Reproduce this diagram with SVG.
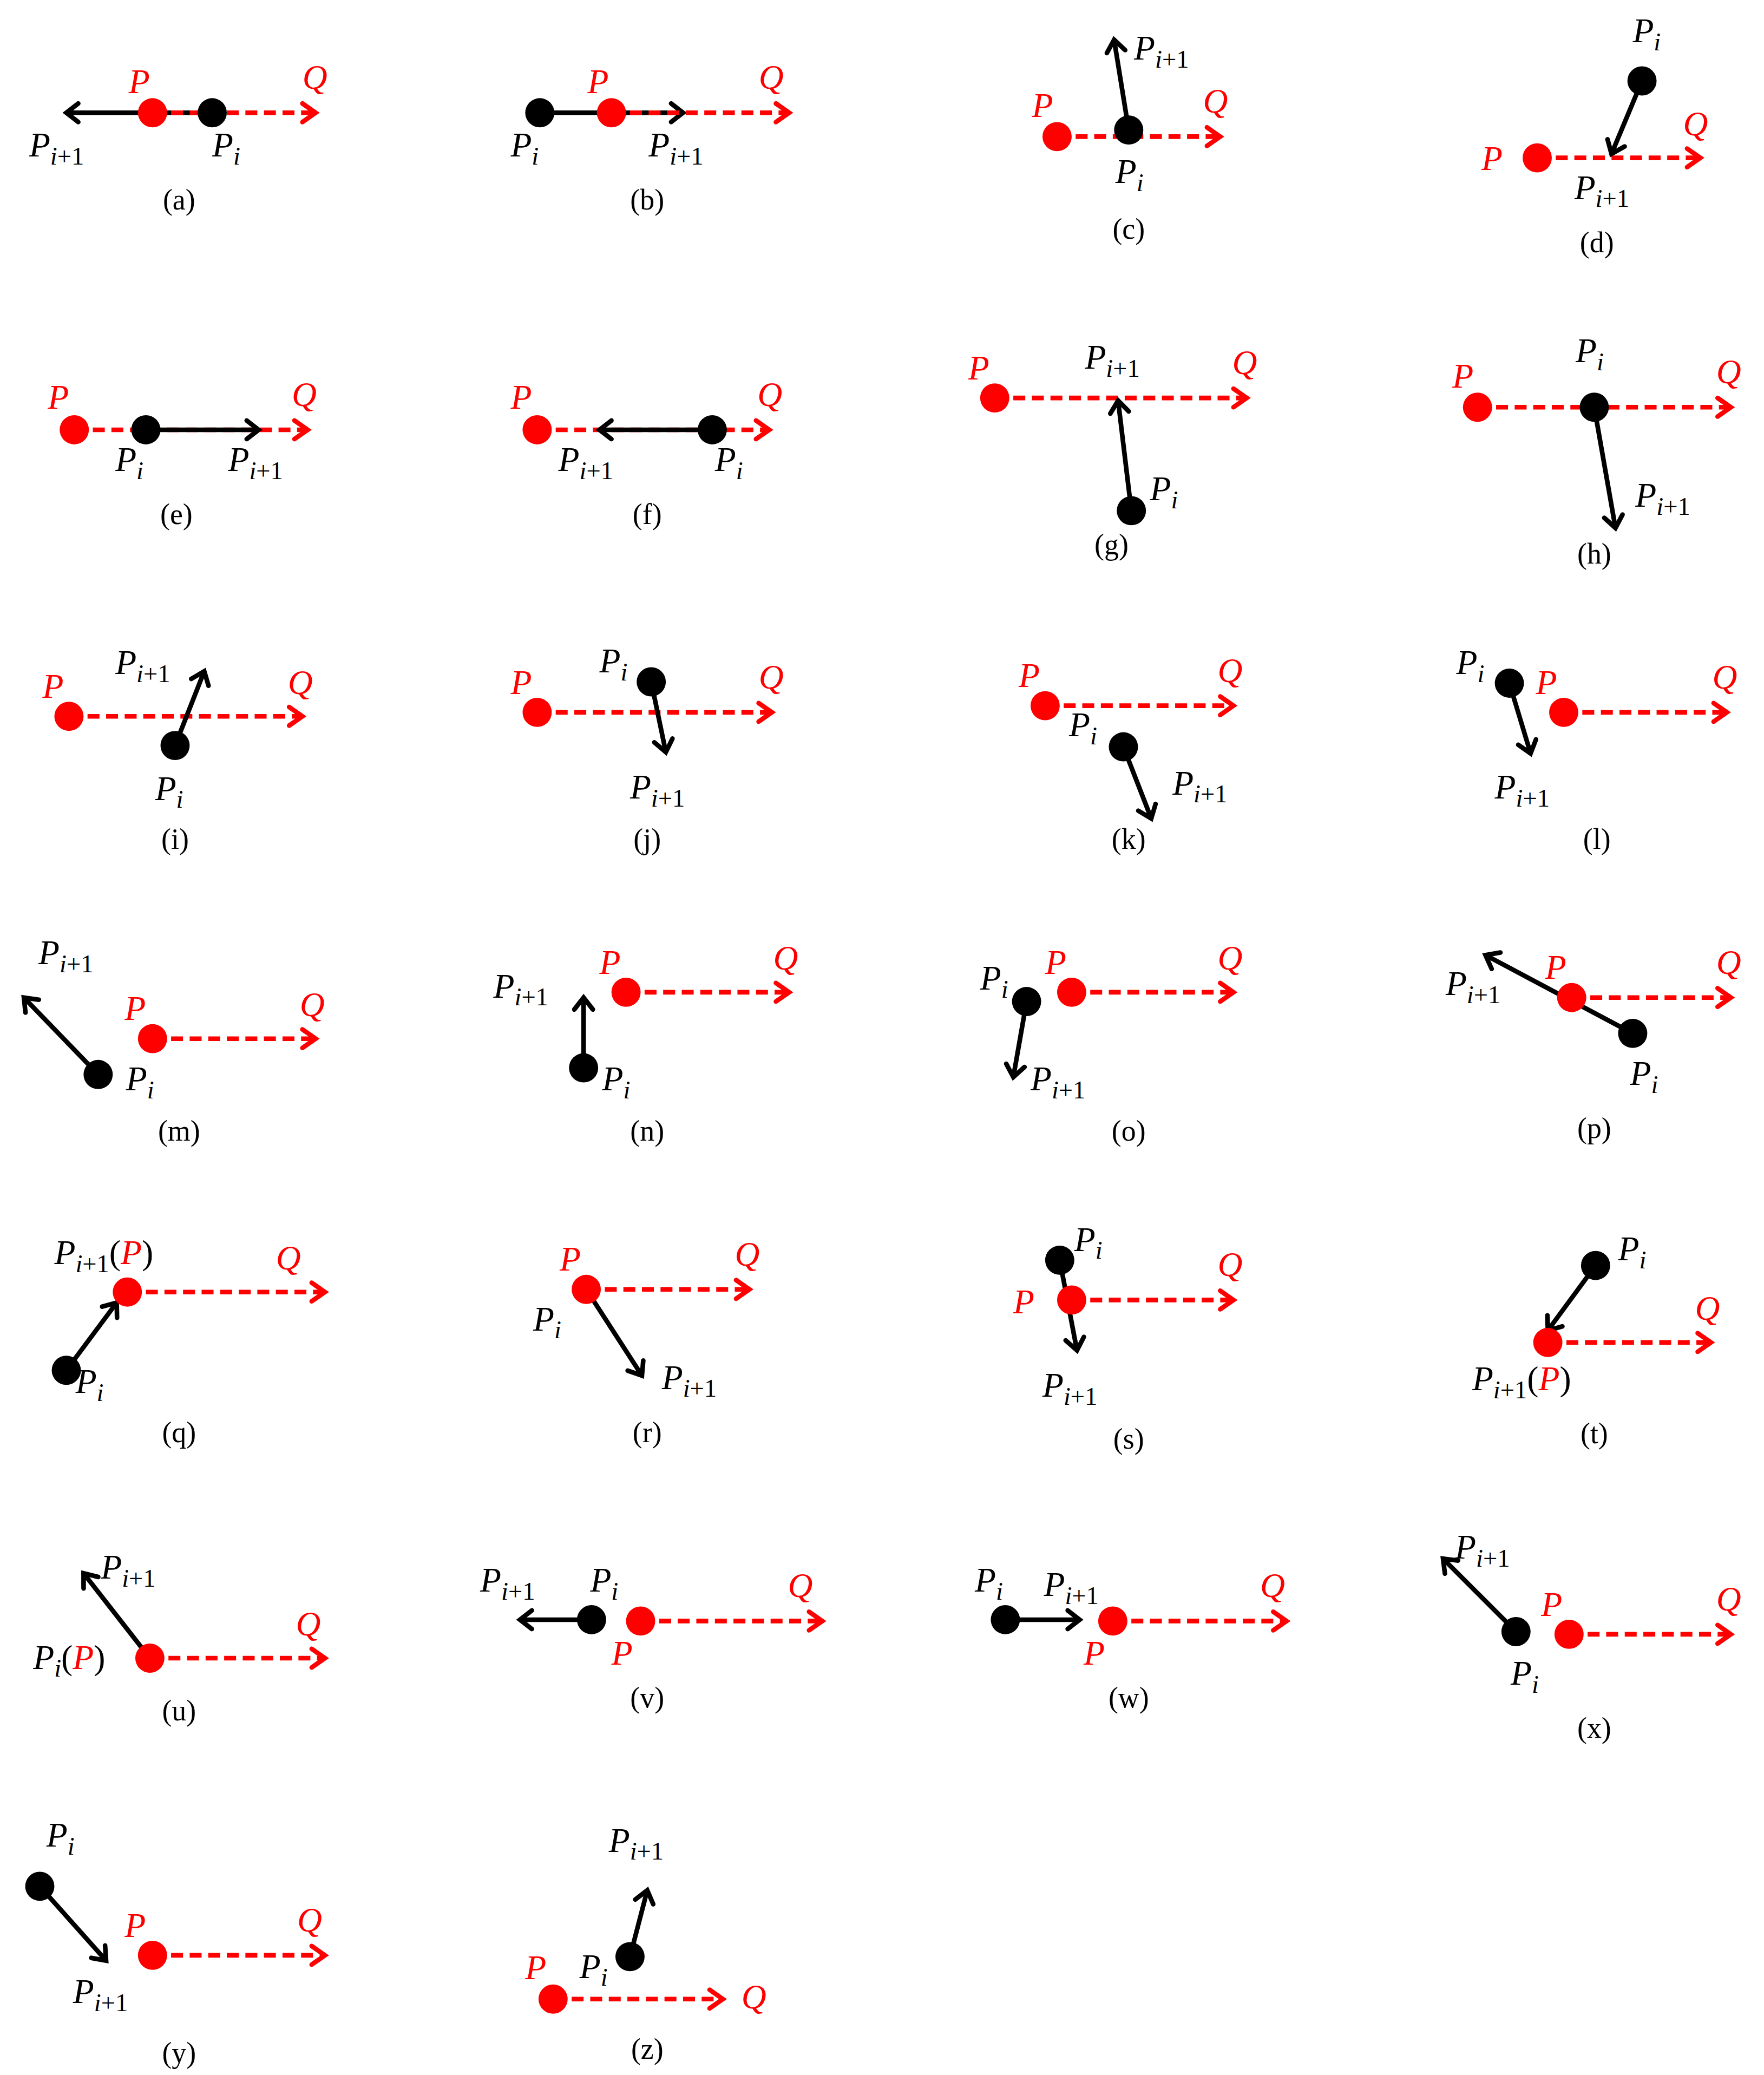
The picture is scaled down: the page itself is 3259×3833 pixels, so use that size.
<svg xmlns="http://www.w3.org/2000/svg" width="3259" height="3833" viewBox="0 0 3259 3833">
<style>
text{font-family:"Liberation Serif",serif;font-size:26px}
.r{fill:#f00;font-style:italic}
.b{fill:#000;font-style:italic}
.s{font-size:19px;font-style:italic}
.u{font-size:19px;font-style:normal}
.cap{font-style:normal;font-size:22px;text-anchor:middle}
.k{stroke:#000;stroke-width:3.5;fill:none;marker-end:url(#ka)}
.d{stroke:#f00;stroke-width:3.5;fill:none;stroke-dasharray:9 5;marker-end:url(#ra)}
.rd{fill:#f00}.bd{fill:#000}
</style>
<defs>
<marker id="ka" markerUnits="userSpaceOnUse" markerWidth="20" markerHeight="20" orient="auto" overflow="visible"><path d="M-9,-7 L0,0 L-9,7" stroke="#000" stroke-width="3.5" fill="none" stroke-linecap="round"/></marker>
<marker id="ra" markerUnits="userSpaceOnUse" markerWidth="20" markerHeight="20" orient="auto" overflow="visible"><path d="M-10,-7 L0,0 L-10,7" stroke="#f00" stroke-width="3.5" fill="none" stroke-linecap="round"/></marker>
</defs>
<rect width="3259" height="3833" fill="#fff"/>
<g transform="scale(2.4504)">
<g id="connectors">
<path class="k" d="M160,85L50,85"/><path class="d" d="M115,85L238,85"/>
<path class="k" d="M407,85L515,85"/><path class="d" d="M461,85L595,85"/>
<path class="d" d="M797,103L920,103"/><path class="k" d="M851,98L840,30"/>
<path class="d" d="M1159,119L1282,119"/><path class="k" d="M1238,61L1215,116"/>
<path class="d" d="M56,324L232,324"/><path class="k" d="M110,324L195,324"/>
<path class="d" d="M405,324L580,324"/><path class="k" d="M537,324L452,324"/>
<path class="d" d="M750,300L940,300"/><path class="k" d="M853,385L843,302"/>
<path class="d" d="M1114,307L1305,307"/><path class="k" d="M1202,307L1218,398"/>
<path class="d" d="M52,540L228,540"/><path class="k" d="M132,562L154,506"/>
<path class="d" d="M405,537L582,537"/><path class="k" d="M491,514L502,567"/>
<path class="d" d="M788,532L930,532"/><path class="k" d="M847,563L868,617"/>
<path class="d" d="M1179,537L1302,537"/><path class="k" d="M1138,515L1154,568"/>
<path class="d" d="M115,783L238,783"/><path class="k" d="M74,810L18,752"/>
<path class="d" d="M472,748L595,748"/><path class="k" d="M440,805L440,752"/>
<path class="d" d="M808,748L930,748"/><path class="k" d="M774,755L764,812"/>
<path class="d" d="M1185,752L1305,752"/><path class="k" d="M1231,779L1120,720"/>
<path class="d" d="M96,974L245,974"/><path class="k" d="M50,1033L88,982"/>
<path class="d" d="M442,972L565,972"/><path class="k" d="M442,972L484,1037"/>
<path class="d" d="M808,980L930,980"/><path class="k" d="M799,950L812,1018"/>
<path class="d" d="M1167,1012L1290,1012"/><path class="k" d="M1203,954L1167,1003"/>
<path class="d" d="M113,1250L245,1250"/><path class="k" d="M113,1250L63,1186"/>
<path class="d" d="M483,1222L620,1222"/><path class="k" d="M446,1221L392,1221"/>
<path class="d" d="M839,1222L970,1222"/><path class="k" d="M758,1221L814,1221"/>
<path class="d" d="M1183,1232L1305,1232"/><path class="k" d="M1143,1230L1088,1175"/>
<path class="d" d="M115,1474L245,1474"/><path class="k" d="M30,1422L80,1478"/>
<path class="d" d="M417,1507L545,1507"/><path class="k" d="M475,1475L488,1425"/>
</g>
<g id="a"><circle class="rd" cx="115" cy="85" r="11"/><circle class="bd" cx="160" cy="85" r="11"/>
<text class="r" x="97" y="70">P</text><text class="r" x="228" y="67">Q</text>
<text class="b" x="22" y="118">P<tspan class="s" dy="6">i</tspan><tspan class="u">+1</tspan></text><text class="b" x="160" y="118">P<tspan class="s" dy="6">i</tspan></text>
<text class="cap" x="135" y="158">(a)</text></g>
<g id="b"><circle class="bd" cx="407" cy="85" r="11"/><circle class="rd" cx="461" cy="85" r="11"/>
<text class="r" x="443" y="70">P</text><text class="r" x="572" y="67">Q</text>
<text class="b" x="385" y="118">P<tspan class="s" dy="6">i</tspan></text><text class="b" x="489" y="118">P<tspan class="s" dy="6">i</tspan><tspan class="u">+1</tspan></text>
<text class="cap" x="488" y="158">(b)</text></g>
<g id="c"><circle class="rd" cx="797" cy="103" r="11"/><circle class="bd" cx="851" cy="98" r="11"/>
<text class="r" x="778" y="88">P</text><text class="r" x="907" y="85">Q</text>
<text class="b" x="855" y="45">P<tspan class="s" dy="6">i</tspan><tspan class="u">+1</tspan></text><text class="b" x="841" y="138">P<tspan class="s" dy="6">i</tspan></text>
<text class="cap" x="851" y="180">(c)</text></g>
<g id="d"><circle class="rd" cx="1159" cy="119" r="11"/><circle class="bd" cx="1238" cy="61" r="11"/>
<text class="r" x="1117" y="128">P</text><text class="r" x="1269" y="102">Q</text>
<text class="b" x="1231" y="32">P<tspan class="s" dy="6">i</tspan></text><text class="b" x="1187" y="150">P<tspan class="s" dy="6">i</tspan><tspan class="u">+1</tspan></text>
<text class="cap" x="1204" y="190">(d)</text></g>
<g id="e"><circle class="rd" cx="56" cy="324" r="11"/><circle class="bd" cx="110" cy="324" r="11"/>
<text class="r" x="36" y="308">P</text><text class="r" x="220" y="306">Q</text>
<text class="b" x="87" y="355">P<tspan class="s" dy="6">i</tspan></text><text class="b" x="172" y="355">P<tspan class="s" dy="6">i</tspan><tspan class="u">+1</tspan></text>
<text class="cap" x="133" y="395">(e)</text></g>
<g id="f"><circle class="rd" cx="405" cy="324" r="11"/><circle class="bd" cx="537" cy="324" r="11"/>
<text class="r" x="385" y="308">P</text><text class="r" x="571" y="306">Q</text>
<text class="b" x="421" y="355">P<tspan class="s" dy="6">i</tspan><tspan class="u">+1</tspan></text><text class="b" x="539" y="355">P<tspan class="s" dy="6">i</tspan></text>
<text class="cap" x="488" y="395">(f)</text></g>
<g id="g"><circle class="rd" cx="750" cy="300" r="11"/><circle class="bd" cx="853" cy="385" r="11"/>
<text class="r" x="730" y="286">P</text><text class="r" x="929" y="282">Q</text>
<text class="b" x="818" y="278">P<tspan class="s" dy="6">i</tspan><tspan class="u">+1</tspan></text><text class="b" x="867" y="377">P<tspan class="s" dy="6">i</tspan></text>
<text class="cap" x="838" y="418">(g)</text></g>
<g id="h"><circle class="rd" cx="1114" cy="307" r="11"/><circle class="bd" cx="1202" cy="307" r="11"/>
<text class="r" x="1095" y="292">P</text><text class="r" x="1294" y="289">Q</text>
<text class="b" x="1188" y="273">P<tspan class="s" dy="6">i</tspan></text><text class="b" x="1233" y="382">P<tspan class="s" dy="6">i</tspan><tspan class="u">+1</tspan></text>
<text class="cap" x="1202" y="425">(h)</text></g>
<g id="i"><circle class="rd" cx="52" cy="540" r="11"/><circle class="bd" cx="132" cy="562" r="11"/>
<text class="r" x="32" y="526">P</text><text class="r" x="217" y="523">Q</text>
<text class="b" x="87" y="508">P<tspan class="s" dy="6">i</tspan><tspan class="u">+1</tspan></text><text class="b" x="117" y="603">P<tspan class="s" dy="6">i</tspan></text>
<text class="cap" x="132" y="640">(i)</text></g>
<g id="j"><circle class="rd" cx="405" cy="537" r="11"/><circle class="bd" cx="491" cy="514" r="11"/>
<text class="r" x="385" y="523">P</text><text class="r" x="572" y="519">Q</text>
<text class="b" x="452" y="507">P<tspan class="s" dy="6">i</tspan></text><text class="b" x="475" y="602">P<tspan class="s" dy="6">i</tspan><tspan class="u">+1</tspan></text>
<text class="cap" x="488" y="640">(j)</text></g>
<g id="k"><circle class="rd" cx="788" cy="532" r="11"/><circle class="bd" cx="847" cy="563" r="11"/>
<text class="r" x="768" y="518">P</text><text class="r" x="918" y="514">Q</text>
<text class="b" x="806" y="555">P<tspan class="s" dy="6">i</tspan></text><text class="b" x="884" y="599">P<tspan class="s" dy="6">i</tspan><tspan class="u">+1</tspan></text>
<text class="cap" x="851" y="640">(k)</text></g>
<g id="l"><circle class="bd" cx="1138" cy="515" r="11"/><circle class="rd" cx="1179" cy="537" r="11"/>
<text class="r" x="1158" y="523">P</text><text class="r" x="1291" y="519">Q</text>
<text class="b" x="1098" y="508">P<tspan class="s" dy="6">i</tspan></text><text class="b" x="1127" y="602">P<tspan class="s" dy="6">i</tspan><tspan class="u">+1</tspan></text>
<text class="cap" x="1204" y="640">(l)</text></g>
<g id="m"><circle class="rd" cx="115" cy="783" r="11"/><circle class="bd" cx="74" cy="810" r="11"/>
<text class="r" x="94" y="769">P</text><text class="r" x="226" y="766">Q</text>
<text class="b" x="29" y="727">P<tspan class="s" dy="6">i</tspan><tspan class="u">+1</tspan></text><text class="b" x="95" y="822">P<tspan class="s" dy="6">i</tspan></text>
<text class="cap" x="135" y="860">(m)</text></g>
<g id="n"><circle class="rd" cx="472" cy="748" r="11"/><circle class="bd" cx="440" cy="805" r="11"/>
<text class="r" x="452" y="734">P</text><text class="r" x="583" y="731">Q</text>
<text class="b" x="372" y="752">P<tspan class="s" dy="6">i</tspan><tspan class="u">+1</tspan></text><text class="b" x="454" y="822">P<tspan class="s" dy="6">i</tspan></text>
<text class="cap" x="488" y="860">(n)</text></g>
<g id="o"><circle class="rd" cx="808" cy="748" r="11"/><circle class="bd" cx="774" cy="755" r="11"/>
<text class="r" x="788" y="734">P</text><text class="r" x="918" y="731">Q</text>
<text class="b" x="739" y="746">P<tspan class="s" dy="6">i</tspan></text><text class="b" x="777" y="822">P<tspan class="s" dy="6">i</tspan><tspan class="u">+1</tspan></text>
<text class="cap" x="851" y="860">(o)</text></g>
<g id="p"><circle class="rd" cx="1185" cy="752" r="11"/><circle class="bd" cx="1231" cy="779" r="11"/>
<text class="r" x="1165" y="738">P</text><text class="r" x="1294" y="734">Q</text>
<text class="b" x="1090" y="750">P<tspan class="s" dy="6">i</tspan><tspan class="u">+1</tspan></text><text class="b" x="1229" y="818">P<tspan class="s" dy="6">i</tspan></text>
<text class="cap" x="1202" y="858">(p)</text></g>
<g id="q"><circle class="rd" cx="96" cy="974" r="11"/><circle class="bd" cx="50" cy="1033" r="11"/>
<text class="b" x="41" y="953">P<tspan class="s" dy="6">i</tspan><tspan class="u">+1</tspan><tspan dy="-6" font-style="normal">(</tspan><tspan fill="#f00">P</tspan><tspan font-style="normal">)</tspan></text><text class="r" x="208" y="957">Q</text>
<text class="b" x="57" y="1050">P<tspan class="s" dy="6">i</tspan></text>
<text class="cap" x="135" y="1087">(q)</text></g>
<g id="r"><circle class="rd" cx="442" cy="972" r="11"/>
<text class="r" x="422" y="958">P</text><text class="r" x="554" y="954">Q</text>
<text class="b" x="402" y="1003">P<tspan class="s" dy="6">i</tspan></text><text class="b" x="499" y="1047">P<tspan class="s" dy="6">i</tspan><tspan class="u">+1</tspan></text>
<text class="cap" x="488" y="1087">(r)</text></g>
<g id="s"><circle class="bd" cx="799" cy="950" r="11"/><circle class="rd" cx="808" cy="980" r="11"/>
<text class="b" x="810" y="943">P<tspan class="s" dy="6">i</tspan></text><text class="r" x="764" y="990">P</text><text class="r" x="918" y="962">Q</text>
<text class="b" x="786" y="1053">P<tspan class="s" dy="6">i</tspan><tspan class="u">+1</tspan></text>
<text class="cap" x="851" y="1092">(s)</text></g>
<g id="t"><circle class="rd" cx="1167" cy="1012" r="11"/><circle class="bd" cx="1203" cy="954" r="11"/>
<text class="b" x="1220" y="950">P<tspan class="s" dy="6">i</tspan></text><text class="r" x="1278" y="995">Q</text>
<text class="b" x="1110" y="1048">P<tspan class="s" dy="6">i</tspan><tspan class="u">+1</tspan><tspan dy="-6" font-style="normal">(</tspan><tspan fill="#f00">P</tspan><tspan font-style="normal">)</tspan></text>
<text class="cap" x="1202" y="1088">(t)</text></g>
<g id="u"><circle class="rd" cx="113" cy="1250" r="11"/>
<text class="b" x="76" y="1190">P<tspan class="s" dy="6">i</tspan><tspan class="u">+1</tspan></text>
<text class="b" x="25" y="1258">P<tspan class="s" dy="6">i</tspan><tspan dy="-6" font-style="normal">(</tspan><tspan fill="#f00">P</tspan><tspan font-style="normal">)</tspan></text><text class="r" x="223" y="1233">Q</text>
<text class="cap" x="135" y="1297">(u)</text></g>
<g id="v"><circle class="bd" cx="446" cy="1221" r="11"/><circle class="rd" cx="483" cy="1222" r="11"/>
<text class="b" x="362" y="1200">P<tspan class="s" dy="6">i</tspan><tspan class="u">+1</tspan></text><text class="b" x="445" y="1200">P<tspan class="s" dy="6">i</tspan></text>
<text class="r" x="461" y="1255">P</text><text class="r" x="594" y="1204">Q</text>
<text class="cap" x="488" y="1287">(v)</text></g>
<g id="w"><circle class="bd" cx="758" cy="1221" r="11"/><circle class="rd" cx="839" cy="1222" r="11"/>
<text class="b" x="735" y="1200">P<tspan class="s" dy="6">i</tspan></text><text class="b" x="787" y="1203">P<tspan class="s" dy="6">i</tspan><tspan class="u">+1</tspan></text>
<text class="r" x="817" y="1255">P</text><text class="r" x="950" y="1204">Q</text>
<text class="cap" x="851" y="1287">(w)</text></g>
<g id="x"><circle class="bd" cx="1143" cy="1230" r="11"/><circle class="rd" cx="1183" cy="1232" r="11"/>
<text class="b" x="1097" y="1175">P<tspan class="s" dy="6">i</tspan><tspan class="u">+1</tspan></text><text class="b" x="1139" y="1270">P<tspan class="s" dy="6">i</tspan></text>
<text class="r" x="1162" y="1218">P</text><text class="r" x="1294" y="1214">Q</text>
<text class="cap" x="1202" y="1310">(x)</text></g>
<g id="y"><circle class="bd" cx="30" cy="1422" r="11"/><circle class="rd" cx="115" cy="1474" r="11"/>
<text class="b" x="35" y="1392">P<tspan class="s" dy="6">i</tspan></text><text class="b" x="55" y="1510">P<tspan class="s" dy="6">i</tspan><tspan class="u">+1</tspan></text>
<text class="r" x="94" y="1460">P</text><text class="r" x="224" y="1456">Q</text>
<text class="cap" x="135" y="1555">(y)</text></g>
<g id="z"><circle class="rd" cx="417" cy="1507" r="11"/><circle class="bd" cx="475" cy="1475" r="11"/>
<text class="b" x="459" y="1396">P<tspan class="s" dy="6">i</tspan><tspan class="u">+1</tspan></text><text class="b" x="437" y="1491">P<tspan class="s" dy="6">i</tspan></text>
<text class="r" x="396" y="1492">P</text><text class="r" x="559" y="1514">Q</text>
<text class="cap" x="488" y="1552">(z)</text></g>
</g>
</svg>
